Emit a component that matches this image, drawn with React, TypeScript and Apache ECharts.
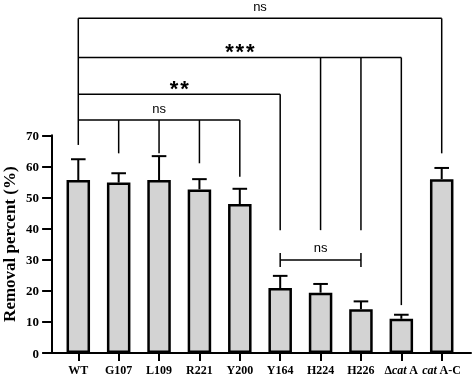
import React, { useEffect, useRef } from "react";
import * as echarts from "echarts";

const categories = ["WT", "G107", "L109", "R221", "Y200", "Y164", "H224", "H226", "Δcat A", "cat A-C"];
const means = [55.6, 54.8, 55.6, 52.6, 47.9, 20.9, 19.4, 14.1, 11.0, 55.9];
const sds = [6.7, 3.0, 7.7, 3.3, 4.9, 3.9, 2.8, 2.5, 1.3, 3.6];
const yTicks = [0, 10, 20, 30, 40, 50, 60, 70];

// significance brackets (all start at WT)
const bracketLabels = ["ns", "***", "**", "ns"];
const bracketFrom = [0, 0, 0, 0];
const bracketTo = [9, 8, 5, 4];
const bracketHeights = [107.6, 95.0, 83.2, 74.9];
const bracketDrops: number[][][] = [
  [[0, 66.9], [9, 64.2]],
  [[6, 39.5], [7, 39.5], [8, 15.4]],
  [[5, 39.5]],
  [[1, 64.2], [2, 64.2], [3, 61.0], [4, 56.7]],
];
// lower bracket Y164 vs H226
const lowLabel = "ns";
const lowFrom = 5;
const lowTo = 7;
const lowHeight = 29.9;
const lowTick = 2.25;

const serif = "'Liberation Serif', 'Times New Roman', serif";
const sans = "'Liberation Sans', Arial, sans-serif";

export default function App() {
  const ref = useRef<HTMLDivElement>(null);
  useEffect(() => {
    if (!ref.current) return;
    const chart = echarts.init(ref.current, null, { renderer: "svg" });
    const rich = {
      n: { fontFamily: serif, fontWeight: "bold", fontSize: 12, color: "#000" },
      i: { fontFamily: serif, fontWeight: "bold", fontStyle: "italic", fontSize: 12, color: "#000" },
    };
    const option: any = {
      animation: false,
      grid: [
        { left: 58.1, right: 12.1, top: 135.3, bottom: 25, containLabel: false, outerBoundsMode: "none" },
        { left: 50, right: 3, top: 135.3, bottom: 25, containLabel: false, outerBoundsMode: "none" },
      ],
      xAxis: [
        {
          type: "category",
          data: categories,
          gridIndex: 0,
          axisLine: { show: true, lineStyle: { color: "#000", width: 2 } },
          axisTick: { show: true, alignWithLabel: true, length: 8, lineStyle: { color: "#000", width: 2 } },
          axisLabel: {
            margin: 11,
            interval: 0,
            hideOverlap: false,
            formatter: (v: string) => {
              const parts = v.split("cat");
              if (parts.length === 1) return `{n|${v}}`;
              return (parts[0] ? `{n|${parts[0]}}` : "") + "{i|cat}" + `{n|${parts[1]}}`;
            },
            rich,
          },
        },
        {
          type: "value",
          gridIndex: 1,
          min: 0,
          max: 1,
          axisLine: { show: true, lineStyle: { color: "#000", width: 2 } },
          axisTick: { show: false },
          axisLabel: { show: false },
          splitLine: { show: false },
        },
      ],
      yAxis: [
        {
          type: "value",
          gridIndex: 0,
          min: yTicks[0],
          max: yTicks[yTicks.length - 1],
          interval: 10,
          offset: 6,
          name: "Removal percent (%)",
          nameLocation: "middle",
          nameGap: 34,
          nameMoveOverlap: false,
          nameTextStyle: { fontFamily: serif, fontWeight: "bold", fontSize: 17, color: "#000" },
          axisLine: { show: true, lineStyle: { color: "#000", width: 2 } },
          axisTick: { show: true, length: 10, lineStyle: { color: "#000", width: 2 } },
          axisLabel: { margin: 13, fontFamily: serif, fontWeight: "bold", fontSize: 13, color: "#000" },
          splitLine: { show: false },
        },
        { type: "value", gridIndex: 1, show: false, min: 0, max: 1 },
      ],
      series: [
        {
          type: "bar",
          xAxisIndex: 0,
          yAxisIndex: 0,
          data: means,
          barWidth: 23.5,
          itemStyle: { color: "#d3d3d3", borderColor: "#000", borderWidth: 2.5 },
          z: 2,
        },
        {
          type: "custom",
          xAxisIndex: 0,
          yAxisIndex: 0,
          z: 3,
          clip: false,
          data: means.map((m, i) => [i, m, m + sds[i]]),
          renderItem: (params: any, api: any) => {
            const i = api.value(0);
            const base = api.coord([i, api.value(1)]);
            const top = api.coord([i, api.value(2)]);
            const half = 7.3;
            const st = { stroke: "#000", lineWidth: 2 };
            return {
              type: "group",
              children: [
                { type: "line", shape: { x1: base[0], y1: base[1], x2: top[0], y2: top[1] }, style: st },
                { type: "line", shape: { x1: top[0] - half, y1: top[1], x2: top[0] + half, y2: top[1] }, style: st },
              ],
            };
          },
        },
        {
          type: "custom",
          xAxisIndex: 0,
          yAxisIndex: 0,
          z: 4,
          clip: false,
          data: bracketHeights.map((h, i) => [bracketFrom[i], h]),
          renderItem: (params: any, api: any) => {
            const k = params.dataIndex;
            const h = bracketHeights[k];
            const a = api.coord([bracketFrom[k], h]);
            const b = api.coord([bracketTo[k], h]);
            const st = { stroke: "#000", lineWidth: 1.5 };
            const children: any[] = [
              { type: "line", shape: { x1: a[0], y1: a[1], x2: b[0], y2: b[1] }, style: st },
            ];
            bracketDrops[k].forEach((d) => {
              const p = api.coord([d[0], h]);
              const q = api.coord([d[0], d[1]]);
              children.push({ type: "line", shape: { x1: p[0], y1: p[1], x2: q[0], y2: q[1] }, style: st });
            });
            const isStar = bracketLabels[k].indexOf("*") >= 0;
            const label = isStar ? bracketLabels[k].split("").join("\u200A") : bracketLabels[k];
            children.push({
              type: "text",
              x: (a[0] + b[0]) / 2,
              y: a[1] - (isStar ? 6 : 12),
              style: {
                text: label,
                fontFamily: sans,
                fontSize: isStar ? 22 : 13,
                fontWeight: isStar ? "bold" : "normal",
                fill: "#000",
                align: "center",
                verticalAlign: "middle",
              },
            });
            return { type: "group", children };
          },
        },
        {
          type: "custom",
          xAxisIndex: 0,
          yAxisIndex: 0,
          z: 4,
          clip: false,
          data: [[lowFrom, lowHeight]],
          renderItem: (params: any, api: any) => {
            const a = api.coord([lowFrom, lowHeight]);
            const b = api.coord([lowTo, lowHeight]);
            const t1 = api.coord([lowFrom, lowHeight + lowTick]);
            const t2 = api.coord([lowFrom, lowHeight - lowTick]);
            const dy1 = t1[1] - a[1];
            const dy2 = t2[1] - a[1];
            const st = { stroke: "#000", lineWidth: 1.5 };
            return {
              type: "group",
              children: [
                { type: "line", shape: { x1: a[0], y1: a[1], x2: b[0], y2: b[1] }, style: st },
                { type: "line", shape: { x1: a[0], y1: a[1] + dy1, x2: a[0], y2: a[1] + dy2 }, style: st },
                { type: "line", shape: { x1: b[0], y1: b[1] + dy1, x2: b[0], y2: b[1] + dy2 }, style: st },
                {
                  type: "text",
                  x: (a[0] + b[0]) / 2,
                  y: a[1] - 13,
                  style: { text: lowLabel, fontFamily: sans, fontSize: 13, fill: "#000", align: "center", verticalAlign: "middle" },
                },
              ],
            };
          },
        },
      ],
    };
    chart.setOption(option);
    return () => chart.dispose();
  }, []);
  return <div ref={ref} style={{ position: "fixed", left: 0, top: 0, width: 474, height: 378 }} />;
}
